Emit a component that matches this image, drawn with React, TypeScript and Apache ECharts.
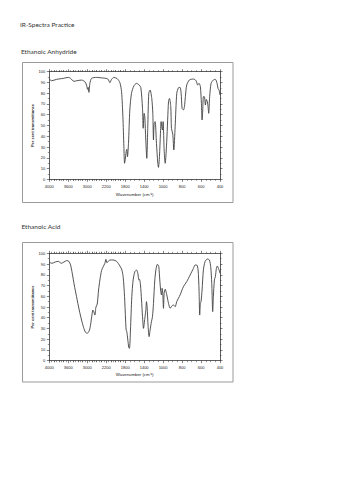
import React, { useEffect, useRef } from "react";
import * as echarts from "echarts";

// Axis tick labels (non-linear wavenumber scale, evenly spaced on the page)
const TICK_WN = [4000, 3600, 3000, 2200, 1800, 1400, 1000, 800, 600, 400];
const Y_TICKS = [0, 10, 20, 30, 40, 50, 60, 70, 80, 90, 100];

const PAGE_TITLE = "IR-Spectra Practice";
const TITLE_1 = "Ethanoic Anhydride";
const TITLE_2 = "Ethanoic Acid";
const X_NAME = "Wavenumber (cm\u207B\u00B9)";
const Y_NAME = "Per cent transmittance";

// [wavenumber, % transmittance]
const ANHYDRIDE_WN = [
  4000, 3951, 3845, 3705, 3600, 3526, 3421, 3337, 3180, 3075, 3022, 2986, 2958, 2930, 2888, 2817,
  2606, 2325, 2200, 2158, 2123, 2087, 2038, 1967, 1911, 1876, 1848, 1827, 1813, 1800, 1779, 1765,
  1751, 1730, 1702, 1667, 1617, 1561, 1505, 1470, 1434, 1420, 1400, 1386, 1365, 1344, 1323, 1302,
  1274, 1239, 1217, 1203, 1189, 1168, 1140, 1112, 1098, 1077, 1056, 1042, 1028, 1014, 1000, 989,
  978, 961, 943, 933, 919, 912, 898, 887, 873, 856, 838, 821, 810, 800, 793, 786, 775, 765, 751,
  723, 680, 652, 635, 621, 607, 596, 589, 582, 575, 565, 554, 544, 533, 526, 519, 509, 494, 470,
  449, 431, 421, 410, 400,
];
const ANHYDRIDE_T = [
  93.2, 91.6, 92.9, 93.8, 94.7, 93.8, 91.0, 91.6, 92.2, 90.7, 87.6, 83.6, 85.4, 80.8, 89.2, 93.8,
  94.7, 94.1, 93.8, 92.9, 89.8, 92.9, 94.7, 93.5, 89.8, 81.4, 58.2, 30.3, 14.9, 18.0, 25.7, 27.9,
  21.0, 33.4, 64.4, 79.9, 86.7, 89.2, 87.6, 85.4, 65.9, 47.4, 61.3, 58.2, 36.5, 19.5, 48.9, 79.9,
  83.0, 75.2, 61.3, 36.5, 52.0, 53.6, 33.4, 14.9, 11.1, 21.0, 42.7, 53.6, 48.9, 45.8, 53.6, 27.2,
  14.9, 36.5, 72.1, 75.2, 67.5, 47.4, 42.1, 27.2, 48.9, 79.9, 85.1, 85.4, 79.9, 65.9, 65.0, 64.4,
  67.5, 76.8, 87.6, 92.3, 93.2, 91.6, 87.6, 89.2, 86.1, 70.6, 55.1, 64.4, 76.8, 76.8, 69.0, 74.3,
  72.1, 67.5, 61.3, 76.8, 89.2, 92.3, 92.9, 89.2, 84.5, 83.0, 78.3,
];

const ACID_WN = [
  4000, 3944, 3873, 3810, 3747, 3691, 3634, 3580, 3527, 3474, 3411, 3338, 3254, 3180, 3117, 3054,
  3000, 2930, 2888, 2846, 2803, 2761, 2719, 2677, 2635, 2578, 2522, 2466, 2396, 2325, 2255, 2213,
  2186, 2158, 2123, 2052, 1982, 1911, 1869, 1841, 1813, 1791, 1779, 1765, 1744, 1723, 1709, 1688,
  1660, 1632, 1596, 1561, 1533, 1512, 1498, 1477, 1455, 1434, 1413, 1386, 1365, 1351, 1337, 1316,
  1295, 1274, 1246, 1224, 1203, 1175, 1147, 1119, 1091, 1070, 1049, 1035, 1021, 1007, 996, 989,
  978, 961, 943, 926, 908, 891, 873, 856, 821, 786, 751, 715, 680, 663, 645, 631, 621, 614, 607,
  600, 589, 575, 558, 533, 512, 498, 487, 477, 470, 459, 449, 438, 428, 417, 410, 400,
];
const ACID_T = [
  91.6, 90.7, 91.9, 92.5, 90.7, 91.9, 93.2, 92.5, 89.1, 81.4, 70.5, 59.6, 47.2, 37.9, 31.1, 26.4,
  25.5, 27.3, 29.8, 35.4, 42.5, 47.2, 45.3, 42.5, 49.7, 52.8, 65.8, 75.2, 83.9, 87.6, 90.7, 94.4,
  91.3, 92.2, 93.8, 93.8, 92.5, 88.2, 84.5, 77.6, 59.6, 37.9, 28.6, 27.0, 19.3, 12.1, 11.5, 28.6,
  59.6, 75.2, 82.9, 84.5, 81.4, 75.2, 75.8, 70.5, 56.5, 41.0, 30.1, 39.4, 46.6, 55.0, 49.7, 31.7,
  22.4, 28.6, 36.3, 41.0, 53.4, 75.2, 86.0, 89.8, 87.6, 75.2, 64.3, 61.2, 67.4, 62.7, 48.8, 62.7,
  66.5, 61.2, 53.4, 48.8, 50.9, 51.9, 50.3, 55.0, 61.2, 68.9, 73.6, 79.8, 86.0, 89.1, 89.1, 84.5,
  65.8, 42.5, 53.4, 55.0, 65.8, 84.5, 92.2, 94.7, 93.8, 87.6, 72.0, 45.7, 59.6, 75.2, 78.3, 86.0,
  88.2, 86.0, 84.5, 81.4,
];

// piecewise mapping of a wavenumber onto the evenly-spaced tick index scale
function pos(wn: number): number {
  for (let i = 0; i < TICK_WN.length - 1; i++) {
    const a = TICK_WN[i];
    const b = TICK_WN[i + 1];
    if (wn <= a && wn >= b) return i + (a - wn) / (a - b);
  }
  return wn > TICK_WN[0] ? 0 : TICK_WN.length - 1;
}

function toData(wn: number[], t: number[]) {
  return wn.map((w, i) => [pos(w), t[i]]);
}

const AXIS_COLOR = "#333";
const LABEL_FONT = "Liberation Sans";

export default function App() {
  const ref = useRef<HTMLDivElement>(null);

  useEffect(() => {
    if (!ref.current) return;
    const chart = echarts.init(ref.current, undefined, { renderer: "svg" });

    const plotLeft = 49.3;
    const plotWidth = 170.7;
    const grids = [
      { left: plotLeft, top: 71.7, width: plotWidth, height: 107.6 },
      { left: plotLeft, top: 253.3, width: plotWidth, height: 107.4 },
    ];

    const maxIdx = TICK_WN.length - 1;
    const segW = plotWidth / maxIdx;

    const allGrids: any[] = [];
    const xAxes: any[] = [];
    const yAxes: any[] = [];
    const series: any[] = [];

    const mainX = (gridIndex: number, position: string, withLabels: boolean, nameGap: number) => ({
      type: "value",
      gridIndex,
      position,
      min: 0,
      max: maxIdx,
      interval: 1,
      axisLine: { show: true, onZero: false, lineStyle: { color: AXIS_COLOR, width: 0.8 } },
      axisTick: { show: true, inside: false, length: 2.5, lineStyle: { color: AXIS_COLOR, width: 0.6 } },
      minorTick: { show: true, splitNumber: 4, length: 1.5, lineStyle: { color: AXIS_COLOR, width: 0.5 } },
      splitLine: { show: false },
      axisLabel: {
        show: withLabels,
        margin: 5,
        fontSize: 4,
        color: "#222",
        fontFamily: LABEL_FONT,
        formatter: (v: number) => String(TICK_WN[Math.round(v)]),
      },
      name: withLabels ? X_NAME : "",
      nameLocation: "middle",
      nameGap,
      nameTextStyle: { fontSize: 4.3, color: "#222", fontFamily: LABEL_FONT },
    });

    const mainY = (gridIndex: number, position: string, withLabels: boolean) => ({
      type: "value",
      gridIndex,
      position,
      min: 0,
      max: 100,
      interval: 10,
      axisLine: { show: true, onZero: false, lineStyle: { color: AXIS_COLOR, width: 0.8 } },
      axisTick: { show: true, inside: false, length: 2.5, lineStyle: { color: AXIS_COLOR, width: 0.6 } },
      minorTick: { show: true, splitNumber: 2, length: 1.5, lineStyle: { color: AXIS_COLOR, width: 0.5 } },
      splitLine: { show: false },
      axisLabel: {
        show: withLabels,
        margin: 4,
        fontSize: 4,
        color: "#222",
        fontFamily: LABEL_FONT,
        formatter: (v: number) => (Y_TICKS.indexOf(v) >= 0 ? String(v) : ""),
      },
      name: withLabels ? Y_NAME : "",
      nameLocation: "middle",
      nameGap: 15,
      nameRotate: 90,
      nameTextStyle: { fontSize: 4, color: "#222", fontWeight: "bold", fontFamily: LABEL_FONT },
    });

    const specs = [
      { data: toData(ANHYDRIDE_WN, ANHYDRIDE_T), nameGap: 13.5, name: TITLE_1 },
      { data: toData(ACID_WN, ACID_T), nameGap: 11.5, name: TITLE_2 },
    ];

    specs.forEach((s, k) => {
      allGrids.push(grids[k]);
      const gi = allGrids.length - 1;
      const xb = xAxes.length;
      xAxes.push(mainX(gi, "bottom", true, s.nameGap));
      xAxes.push(mainX(gi, "top", false, 0));
      const yb = yAxes.length;
      yAxes.push(mainY(gi, "left", true));
      yAxes.push(mainY(gi, "right", false));
      series.push({
        type: "line",
        name: s.name,
        xAxisIndex: xb,
        yAxisIndex: yb,
        data: s.data,
        showSymbol: false,
        smooth: 0.25,
        lineStyle: { color: "#404040", width: 0.9 },
      });
    });

    // denser minor ticks on the 4000-1800 part of the scale
    specs.forEach((s, k) => {
      allGrids.push({ left: plotLeft, top: grids[k].top, width: segW * 4, height: grids[k].height });
      const gi = allGrids.length - 1;
      ["bottom", "top"].forEach((p) => {
        xAxes.push({
          type: "value",
          gridIndex: gi,
          position: p,
          min: 0,
          max: 4,
          interval: 1,
          axisLine: { show: false },
          axisTick: { show: false },
          axisLabel: { show: false },
          splitLine: { show: false },
          minorTick: { show: true, splitNumber: 8, length: 1.5, lineStyle: { color: AXIS_COLOR, width: 0.5 } },
        });
      });
      yAxes.push({ type: "value", gridIndex: gi, min: 0, max: 100, show: false });
    });

    const titleStyle = { fontSize: 6.5, fontFamily: "Lato", fontWeight: "normal", fill: "#333" };

    chart.setOption({
      animation: false,
      backgroundColor: "#ffffff",
      grid: allGrids,
      xAxis: xAxes,
      yAxis: yAxes,
      series,
      graphic: [
        { type: "text", left: 20, top: 21, style: { text: PAGE_TITLE, ...titleStyle } },
        { type: "text", left: 21, top: 48, style: { text: TITLE_1, ...titleStyle } },
        { type: "text", left: 21.5, top: 223, style: { text: TITLE_2, ...titleStyle } },
        {
          type: "rect",
          shape: { x: 22.5, y: 62.5, width: 210.5, height: 140 },
          style: { fill: "none", stroke: "#9a9a9a", lineWidth: 1 },
        },
        {
          type: "rect",
          shape: { x: 22.5, y: 242.5, width: 210.5, height: 139.5 },
          style: { fill: "none", stroke: "#9a9a9a", lineWidth: 1 },
        },
      ],
    });

    return () => chart.dispose();
  }, []);

  return (
    <div style={{ position: "fixed", left: 0, top: 0, width: 353, height: 500, background: "#fff" }}>
      <div ref={ref} style={{ width: 353, height: 500 }} />
    </div>
  );
}
